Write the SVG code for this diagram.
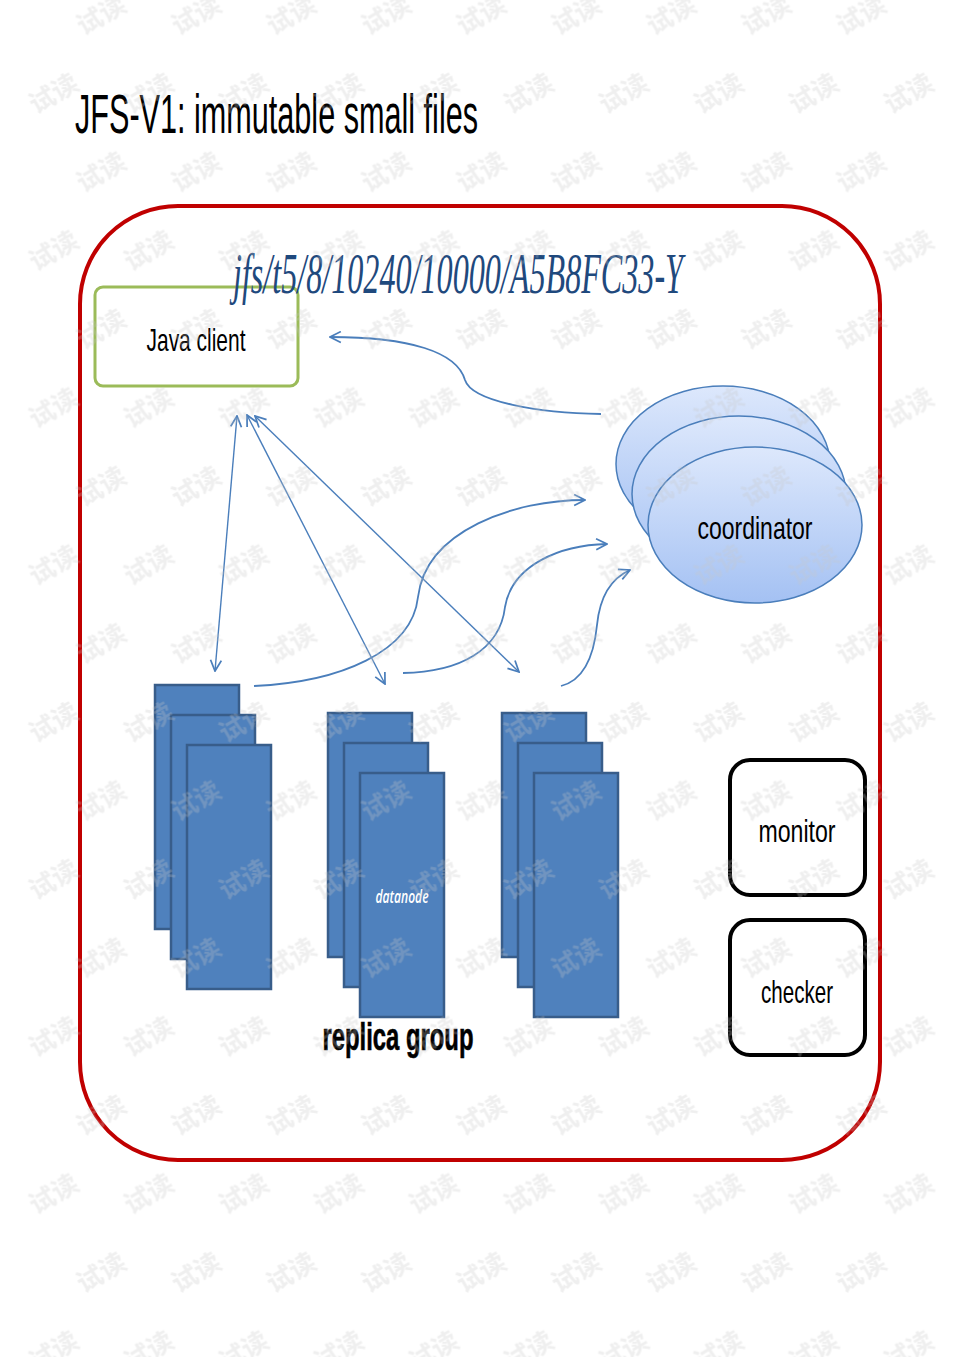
<svg xmlns="http://www.w3.org/2000/svg" width="960" height="1357" viewBox="0 0 960 1357">
<style>
.lbl{font-family:"Liberation Sans","DejaVu Sans",sans-serif;fill:#000;text-anchor:middle}
.dn{fill:#4f81bd;stroke:#385d8a;stroke-width:2.5}
.co{fill:url(#cg);stroke:#4a7ebb;stroke-width:1.5}
.cn{fill:none;stroke:#4a7ebb;stroke-width:1.8}
.st{fill:none;stroke:#4a7ebb;stroke-width:1.4}
.wm{font-family:"Noto Sans CJK SC",sans-serif;font-weight:bold;font-size:26px;fill:#c8c8c8;text-anchor:middle;dominant-baseline:central}
</style>
<defs>
<linearGradient id="cg" x1="0" y1="0" x2="0" y2="1">
<stop offset="0" stop-color="#dde8fc"/>
<stop offset="1" stop-color="#a4c1f3"/>
</linearGradient>
<marker id="ah" viewBox="0 0 12 12" refX="11" refY="6" markerWidth="13" markerHeight="13" markerUnits="userSpaceOnUse" orient="auto-start-reverse">
<path d="M1,1 L11,6 L1,11" fill="none" stroke="#4a7ebb" stroke-width="1.6"/>
</marker>
<pattern id="wmA" patternUnits="userSpaceOnUse" x="52.5" y="-26.3" width="95" height="157.2">
<text class="wm" x="47.5" y="39.3" transform="rotate(-30 47.5 39.3)">试读</text>
</pattern>
<pattern id="wmB" patternUnits="userSpaceOnUse" x="52.5" y="-26.3" width="95" height="157.2">
<text class="wm" x="0" y="117.9" transform="rotate(-30 0 117.9)">试读</text>
<text class="wm" x="95" y="117.9" transform="rotate(-30 95 117.9)">试读</text>
</pattern>
</defs>
<rect width="960" height="1357" fill="#fff"/>
<g id="title">
<text x="75" y="133" font-family="Liberation Sans, sans-serif" font-size="56" textLength="403" lengthAdjust="spacingAndGlyphs" fill="#000">JFS-V1: immutable small files</text>
</g>
<g id="boundary">
<rect x="80" y="206" width="800" height="954" rx="98" ry="98" fill="none" stroke="#c00000" stroke-width="4"/>
</g>
<g id="java-client">
<rect x="95" y="287" width="203" height="99" rx="8" fill="#fff" stroke="#9bbb59" stroke-width="3"/>
<text class="lbl" x="196" y="351" font-size="32" textLength="99" lengthAdjust="spacingAndGlyphs">Java client</text>
</g>
<g id="path-label">
<text x="233" y="293" font-family="Liberation Serif, serif" font-style="italic" font-size="56" textLength="450" lengthAdjust="spacingAndGlyphs" fill="#1f497d">jfs/t5/8/10240/10000/A5B8FC33-Y</text>
</g>
<g id="coordinator">
<ellipse class="co" cx="723" cy="464" rx="107" ry="78"/>
<ellipse class="co" cx="739" cy="494" rx="107" ry="78"/>
<ellipse class="co" cx="755" cy="525" rx="107" ry="78"/>
<text class="lbl" x="755" y="539" font-size="32" textLength="115" lengthAdjust="spacingAndGlyphs">coordinator</text>
</g>
<g id="datanode-group-1">
<rect class="dn" x="155" y="685" width="84" height="244"/>
<rect class="dn" x="171" y="715" width="84" height="244"/>
<rect class="dn" x="187" y="745" width="84" height="244"/>
</g>
<g id="datanode-group-2">
<rect class="dn" x="328" y="713" width="84" height="244"/>
<rect class="dn" x="344" y="743" width="84" height="244"/>
<rect class="dn" x="360" y="773" width="84" height="244"/>
<text x="402" y="903" font-family="Open Sans, Liberation Sans, sans-serif" font-style="italic" font-weight="600" font-size="18" fill="#fff" text-anchor="middle" textLength="53" lengthAdjust="spacingAndGlyphs">datanode</text>
</g>
<g id="datanode-group-3">
<rect class="dn" x="502" y="713" width="84" height="244"/>
<rect class="dn" x="518" y="743" width="84" height="244"/>
<rect class="dn" x="534" y="773" width="84" height="244"/>
</g>
<g id="replica-label">
<text x="398" y="1050" font-family="Liberation Sans, sans-serif" font-weight="bold" font-size="38" fill="#000" stroke="#000" stroke-width="0.6" text-anchor="middle" textLength="151" lengthAdjust="spacingAndGlyphs">replica group</text>
</g>
<g id="monitor">
<rect x="730" y="760" width="135" height="135" rx="20" fill="#fff" stroke="#000" stroke-width="4"/>
<text class="lbl" x="797" y="842" font-size="32" textLength="77" lengthAdjust="spacingAndGlyphs">monitor</text>
</g>
<g id="checker">
<rect x="730" y="920" width="135" height="135" rx="20" fill="#fff" stroke="#000" stroke-width="4"/>
<text class="lbl" x="797" y="1003" font-size="32" textLength="72" lengthAdjust="spacingAndGlyphs">checker</text>
</g>
<g id="connectors">
<path class="cn" d="M601,414 C540,413 472,402 465,380 C457,352 410,337 330,337" marker-end="url(#ah)"/>
<line class="st" x1="237" y1="416" x2="215" y2="671" marker-start="url(#ah)" marker-end="url(#ah)"/>
<line class="st" x1="247" y1="415" x2="385" y2="684" marker-start="url(#ah)" marker-end="url(#ah)"/>
<line class="st" x1="255" y1="416" x2="519" y2="672" marker-start="url(#ah)" marker-end="url(#ah)"/>
<path class="cn" d="M254,686 C340,682 412,652 418,597 C426,530 515,500 585,500" marker-end="url(#ah)"/>
<path class="cn" d="M403,673 C460,672 500,650 505,607 C512,565 560,545 607,544" marker-end="url(#ah)"/>
<path class="cn" d="M561,686 C585,680 594,655 597,625 C600,595 612,578 630,570" marker-end="url(#ah)"/>
</g>
<g id="watermark" opacity="0.28">
<rect x="45" y="0" width="870" height="1357" fill="url(#wmA)"/>
<rect x="0" y="0" width="960" height="1357" fill="url(#wmB)"/>
</g>
</svg>
